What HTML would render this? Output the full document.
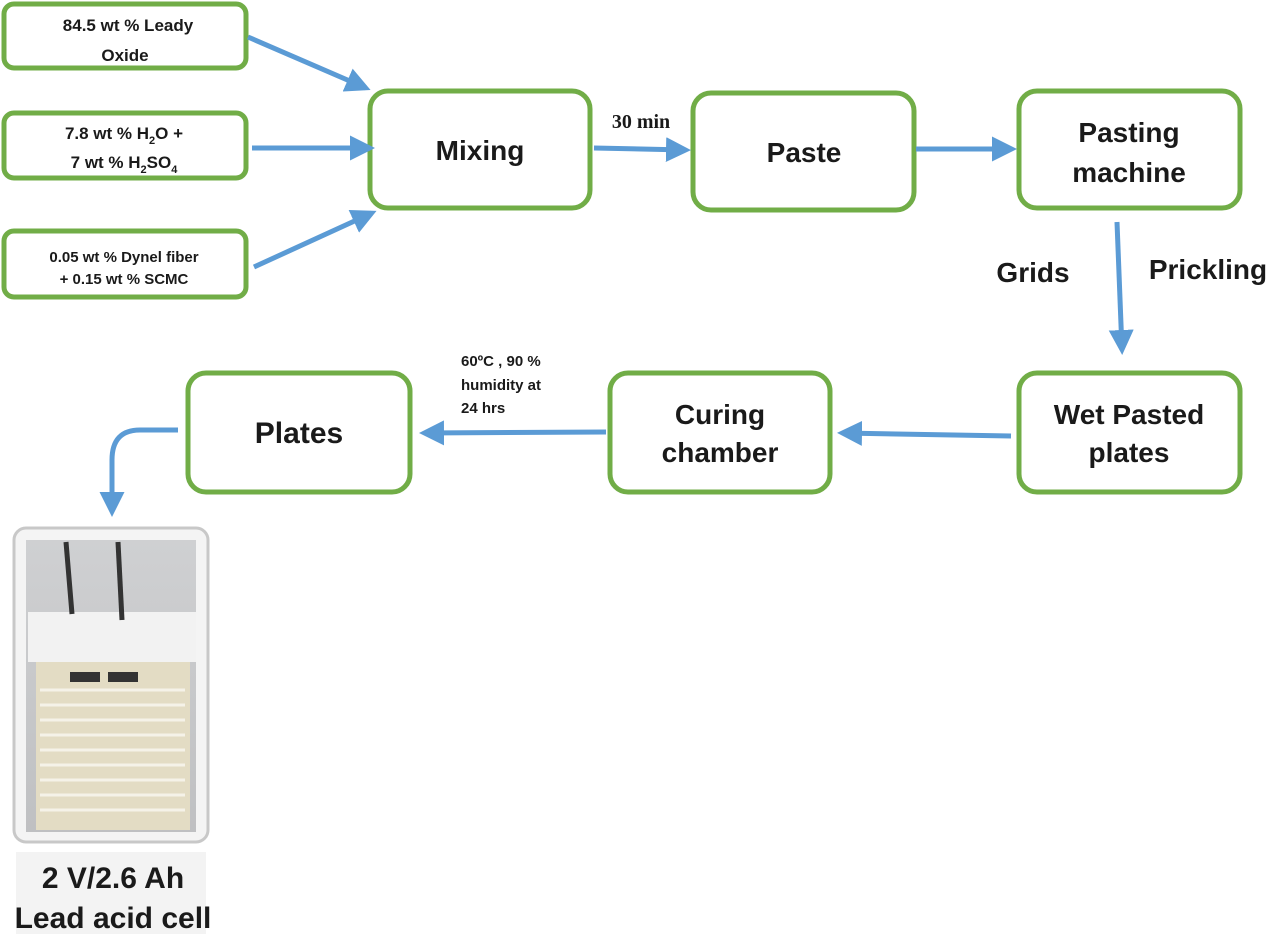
<!DOCTYPE html>
<html><head><style>
html,body{margin:0;padding:0;background:#fff;}
svg{display:block;font-family:"Liberation Sans",Arial,sans-serif;font-weight:bold;}
</style></head><body>
<svg width="1280" height="934" viewBox="0 0 1280 934" xmlns="http://www.w3.org/2000/svg">
<defs>
<marker id="ah" markerWidth="5" markerHeight="5" refX="4" refY="2.5" orient="auto" markerUnits="strokeWidth">
<path d="M0,0 L5,2.5 L0,5 Z" fill="#5b9bd5"/></marker>
<linearGradient id="bg" x1="0" y1="0" x2="0" y2="1"><stop offset="0" stop-color="#cfd0d2"/><stop offset="1" stop-color="#bfc0c2"/></linearGradient>
</defs>
<g fill="#fff" stroke="#71ad47" stroke-width="5">
<rect x="4" y="4" width="242" height="64" rx="10"/>
<rect x="4" y="113" width="242" height="65" rx="10"/>
<rect x="4" y="231" width="242" height="66" rx="10"/>
<rect x="370" y="91" width="220" height="117" rx="18"/>
<rect x="693" y="93" width="221" height="117" rx="18"/>
<rect x="1019" y="91" width="221" height="117" rx="18"/>
<rect x="1019" y="373" width="221" height="119" rx="18"/>
<rect x="610" y="373" width="220" height="119" rx="18"/>
<rect x="188" y="373" width="222" height="119" rx="18"/>
</g>
<g stroke="#5b9bd5" stroke-width="5" fill="none" marker-end="url(#ah)">
<line x1="248" y1="37" x2="366" y2="88"/>
<line x1="252" y1="148" x2="370" y2="148"/>
<line x1="254" y1="267" x2="372" y2="213"/>
<line x1="594" y1="148" x2="686" y2="150"/>
<line x1="916" y1="149" x2="1012" y2="149"/>
<line x1="1117" y1="222" x2="1122" y2="350"/>
<line x1="1011" y1="436" x2="842" y2="433"/>
<line x1="606" y1="432" x2="424" y2="433"/>
<path d="M178,430 L140,430 Q112,430 112,460 L112,512"/>
</g>
<g font-size="17" text-anchor="middle" fill="#1a1a1a">
<text x="128" y="31">84.5 wt % Leady</text>
<text x="125" y="61">Oxide</text>
<text x="124" y="139">7.8 wt %  H<tspan font-size="11" dy="5">2</tspan><tspan dy="-5">O +</tspan></text>
<text x="124" y="168">7 wt % H<tspan font-size="11" dy="5">2</tspan><tspan dy="-5">SO</tspan><tspan font-size="11" dy="5">4</tspan></text>
<text x="124" y="262" font-size="15">0.05 wt % Dynel fiber</text>
<text x="124" y="284" font-size="15">+  0.15 wt % SCMC</text>
</g>
<g font-size="28" text-anchor="middle" fill="#1a1a1a">
<text x="480" y="160">Mixing</text>
<text x="804" y="162">Paste</text>
<text x="1129" y="142">Pasting</text>
<text x="1129" y="182">machine</text>
<text x="1129" y="424">Wet Pasted</text>
<text x="1129" y="462">plates</text>
<text x="720" y="424">Curing</text>
<text x="720" y="462">chamber</text>
<text x="299" y="443" font-size="30">Plates</text>
<text x="1033" y="282">Grids</text>
<text x="1208" y="279">Prickling</text>
</g>
<text x="641" y="128" font-family="Liberation Serif,serif" font-size="20" text-anchor="middle" fill="#1a1a1a">30 min</text>
<g font-size="15" fill="#1a1a1a">
<text x="461" y="366">60ºC , 90 %</text>
<text x="461" y="390">humidity at</text>
<text x="461" y="413">24 hrs</text>
</g>
<rect x="14" y="528" width="194" height="314" rx="12" fill="#f4f4f4" stroke="#c8c8c8" stroke-width="3"/>
<rect x="26" y="540" width="170" height="292" fill="url(#bg)"/>
<rect x="28" y="612" width="168" height="50" fill="#f2f2f2"/>
<rect x="36" y="662" width="154" height="168" fill="#e3dcc4"/>
<g stroke="#f5f2e8" stroke-width="3">
<line x1="40" y1="690" x2="185" y2="690"/><line x1="40" y1="705" x2="185" y2="705"/>
<line x1="40" y1="720" x2="185" y2="720"/><line x1="40" y1="735" x2="185" y2="735"/>
<line x1="40" y1="750" x2="185" y2="750"/><line x1="40" y1="765" x2="185" y2="765"/>
<line x1="40" y1="780" x2="185" y2="780"/><line x1="40" y1="795" x2="185" y2="795"/>
<line x1="40" y1="810" x2="185" y2="810"/>
</g>
<rect x="70" y="672" width="30" height="10" fill="#333"/><rect x="108" y="672" width="30" height="10" fill="#333"/>
<line x1="66" y1="542" x2="72" y2="614" stroke="#333" stroke-width="5"/>
<line x1="118" y1="542" x2="122" y2="620" stroke="#333" stroke-width="5"/>
<rect x="16" y="852" width="190" height="82" fill="#f3f3f3"/>
<g font-size="30" text-anchor="middle" fill="#1a1a1a">
<text x="113" y="888">2 V/2.6 Ah</text>
<text x="113" y="928">Lead acid cell</text>
</g>
</svg>
</body></html>
